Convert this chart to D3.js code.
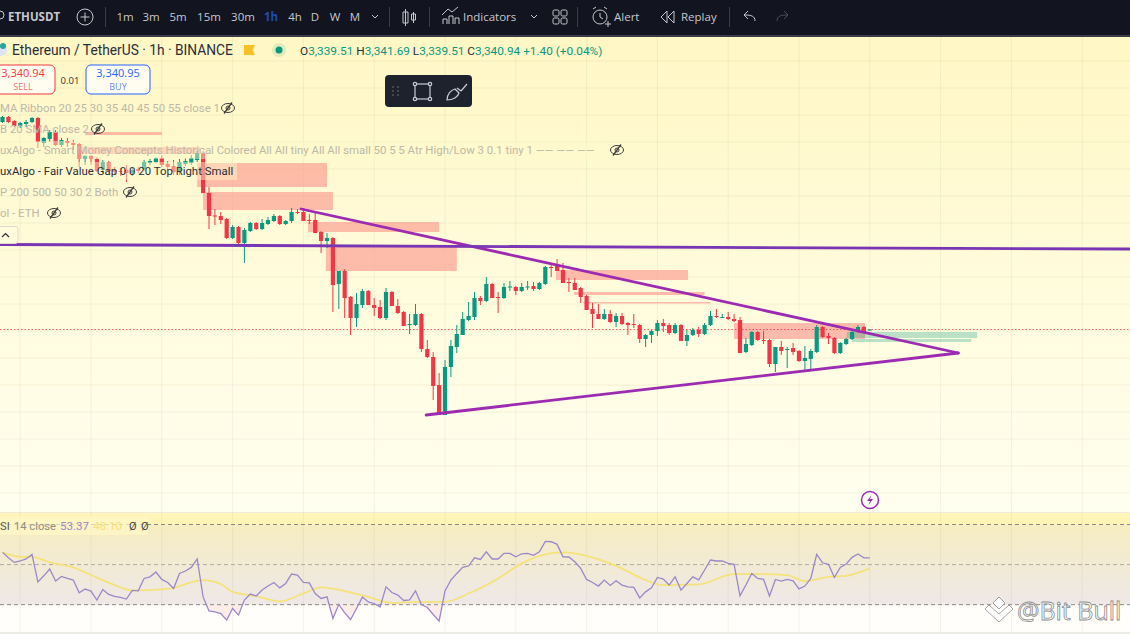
<!DOCTYPE html>
<html>
<head>
<meta charset="utf-8">
<script src="https://cdn.jsdelivr.net/npm/d3@7"></script>
<style>
  html, body { margin: 0; padding: 0; background: #fff; overflow: hidden; }
  text { font-family: "Open Sans", sans-serif; }
  text.thin { font-family: Roboto, sans-serif; }
</style>
</head>
<body>
<div id="chart"></div>
<script>
// Data
const opens = [3756,3766,3758,3748,3752,3756,3764,3714,3722,3736,3710,3718,3714,3712,3682,3688,3682,3660,3676,3660,3658,3660,3654,3662,3662,3674,3676,3684,3672,3668,3656,3672,3674,3680,3694,3614,3569,3568,3562,3524,3546,3514,3538,3554,3542,3552,3558,3568,3552,3558,3576,3576,3560,3560,3536,3518,3524,3432,3458,3406,3364,3390,3418,3390,3386,3364,3416,3388,3376,3350,3350,3372,3302,3286,3230,3170,3266,3306,3330,3360,3366,3404,3398,3432,3406,3404,3426,3426,3418,3426,3428,3422,3432,3466,3470,3460,3436,3434,3424,3408,3382,3372,3362,3372,3356,3368,3354,3352,3350,3322,3330,3338,3354,3350,3334,3350,3318,3330,3340,3332,3350,3368,3365,3366,3362,3360,3296,3310,3336,3320,3320,3272,3306,3300,3304,3298,3278,3282,3296,3346,3328,3324,3294,3312,3322,3336,3346,3339.51];
const highs = [3768,3768,3760,3756,3760,3766,3766,3726,3740,3740,3724,3724,3720,3714,3690,3690,3686,3680,3678,3666,3664,3670,3664,3666,3680,3682,3686,3690,3678,3680,3682,3684,3690,3698,3698,3626,3582,3576,3564,3550,3548,3544,3556,3556,3562,3566,3572,3570,3560,3584,3582,3584,3572,3574,3538,3534,3526,3458,3462,3408,3414,3422,3420,3404,3400,3424,3418,3402,3378,3372,3392,3374,3320,3296,3254,3280,3320,3350,3376,3396,3416,3408,3446,3434,3416,3434,3438,3428,3434,3438,3436,3436,3468,3470,3482,3474,3444,3444,3426,3410,3394,3392,3382,3380,3374,3374,3356,3372,3352,3332,3340,3360,3362,3354,3354,3352,3340,3344,3346,3354,3378,3382,3372,3376,3372,3366,3324,3338,3338,3338,3322,3306,3318,3306,3314,3300,3308,3302,3350,3348,3334,3326,3316,3324,3338,3350,3348,3341.69];
const lows = [3754,3754,3746,3744,3746,3754,3704,3706,3716,3708,3706,3706,3700,3666,3670,3670,3656,3654,3654,3650,3648,3636,3648,3654,3658,3670,3674,3666,3660,3650,3650,3668,3670,3676,3614,3542,3550,3552,3522,3522,3510,3474,3536,3540,3540,3550,3556,3550,3550,3554,3572,3558,3552,3534,3494,3504,3376,3382,3364,3330,3346,3384,3390,3368,3362,3360,3388,3372,3348,3332,3348,3296,3284,3200,3170,3170,3246,3294,3330,3358,3360,3390,3396,3404,3374,3402,3418,3410,3416,3420,3418,3420,3430,3446,3458,3434,3416,3420,3394,3380,3344,3362,3360,3354,3346,3350,3330,3344,3314,3306,3314,3328,3336,3330,3332,3318,3308,3328,3326,3330,3348,3364,3364,3360,3356,3294,3294,3308,3318,3312,3266,3256,3290,3264,3290,3276,3258,3262,3294,3324,3312,3292,3292,3310,3320,3334,3334,3339.51];
const closes = [3766,3756,3748,3754,3756,3764,3716,3724,3736,3710,3720,3714,3710,3682,3688,3682,3658,3676,3658,3656,3656,3654,3660,3658,3676,3678,3684,3670,3666,3656,3676,3678,3684,3694,3614,3568,3567,3560,3524,3546,3514,3540,3554,3542,3554,3560,3568,3552,3558,3576,3574,3558,3558,3534,3518,3524,3430,3458,3404,3364,3392,3418,3390,3384,3364,3416,3388,3374,3348,3352,3372,3302,3286,3228,3170,3266,3308,3332,3362,3368,3404,3398,3432,3404,3404,3426,3427,3418,3426,3427,3422,3434,3466,3465,3458,3434,3434,3420,3406,3380,3372,3362,3372,3356,3368,3352,3350,3350,3322,3330,3338,3354,3348,3334,3350,3318,3330,3340,3332,3350,3368,3366,3366,3362,3358,3294,3312,3336,3320,3318,3272,3306,3298,3302,3296,3278,3284,3298,3346,3326,3324,3294,3314,3322,3336,3346,3336,3340.94];

const rsiValues = [56.1,53.4,51.1,51.8,52.8,55.1,41.4,44.4,47.8,41.8,44.1,43.1,42.3,35.9,37.8,36.8,32.3,37.6,35.1,34.1,33.6,32.8,37.1,36.9,43.1,43.9,46.3,42.6,41.1,38.1,45.6,46.8,48.6,52.8,33.9,26.9,26.4,25.6,22.3,28.1,24.8,32.3,35.3,34.3,37.3,39.3,41.1,38.4,40.6,45.3,44.8,41.1,40.9,35.6,33.1,33.9,23.1,30.1,25.9,22.6,28.1,33.8,31.4,30.6,28.9,38.9,36.1,34.8,32.1,32.4,36.9,30.1,28.6,25.1,21.8,36.8,42.3,45.6,48.6,49.3,53.4,52.6,56.4,52.8,52.8,55.6,55.6,53.9,55.4,55.6,54.6,56.4,61.6,61.4,60.1,53.9,53.8,51.4,48.1,42.6,41.1,39.3,42.3,39.6,41.9,39.8,38.9,38.6,33.4,36.4,38.4,43.6,42.8,39.8,43.9,37.3,40.6,43.9,42.4,47.3,52.3,51.8,51.8,50.6,50.1,34.4,39.8,45.6,43.1,42.6,34.3,42.6,41.8,42.6,41.9,37.9,39.3,43.1,55.1,50.9,50.1,43.6,48.6,50.3,53.6,55.3,53.4,53.37];
const rsiMaIndex = [0,3,5,8,12,15,19,22,25,29,31,34,37,39,43,47,51,54,58,62,66,70,75,79,84,88,91,95,99,104,109,112,118,124,129,133,136,140,143,147];
const rsiMaValues = [56.1,53.9,53.9,51.1,48.6,44.8,39.8,37.1,37.3,38.4,40.3,42.3,40.3,36.4,34.3,31.6,35.6,38.6,36.8,33.9,30.9,31.4,31.4,35.6,43.1,50.6,54.4,56.1,54.4,49.4,42.3,39.8,40.1,45.25,45.25,44.75,41.75,43.9,44.4,48.1];
const rsiLevels = [70, 50, 30];

// fair value gap boxes: candle index span and price span
const redGapStart = [14,12.8,33,34,51.8,54.8,93.8,96.9,98.4,124];
const redGapEnd = [27,33.5,55,56,74,77,116.2,119,120,146.2];
const redGapTop = [3736,3706,3674,3616,3556,3510,3460,3416,3396,3354];
const redGapBottom = [3730,3692,3626,3580,3536,3458,3440,3410,3393,3322];
const greenGapStart = [143.1,144];
const greenGapEnd = [165.2,164.2];
const greenGapTop = [3336,3322];
const greenGapBottom = [3324,3316];

// drawn trend lines
const apexIndex = 162, apexPrice = 3294;
const trendStartIndex = [50.6, 71.8];
const trendStartPrice = [3582, 3170];
const levelIndex = [-0.42, 191.1];
const levelPrice = [3511, 3502];
const lastPrice = 3340.94;

const timeframes = ['1m','3m','5m','15m','30m','1h','4h','D','W','M'];
const timeframeX = [125,151,178,209,243,271,295,315,335,355];

// Dimensions
const dimensions = { width: 1130, height: 634, topBar: 37, mainBottom: 512, rsiBottom: 632 };

const svg = d3.select('#chart')
  .append('svg')
  .attr('width', dimensions.width)
  .attr('height', dimensions.height)
  .style('display', 'block');

const defs = svg.append('defs');
function gradient(id, stops) {
  const g = defs.append('linearGradient').attr('id', id)
    .attr('x1', 0).attr('x2', 0).attr('y1', 0).attr('y2', 1);
  stops.forEach(s => g.append('stop').attr('offset', s[0]).attr('stop-color', s[1]));
}
gradient('mainBg', [[0, '#fff7c4'], [0.45, '#fffbd9'], [1, '#fffff0']]);
gradient('rsiTop', [[0, '#fff6bb'], [1, '#fff3b4']]);
gradient('rsiBand', [[0, '#f6edc0'], [1, '#eee8e8']]);

// Scales
const xScale = d3.scaleLinear().domain([0, 147]).range([2.5, 869.8]);
const yScale = d3.scaleLinear().domain([3924, 2976]).range([38, 512]);
const rsiScale = d3.scaleLinear().domain([30, 70]).range([604.7, 524.5]);

// Backgrounds
svg.append('rect').attr('width', 1130).attr('height', 634).attr('fill', '#fffefa');
svg.append('rect').attr('y', 37).attr('width', 1130).attr('height', 475).attr('fill', 'url(#mainBg)');
svg.append('rect').attr('y', 513).attr('width', 1130).attr('height', rsiScale(70) - 513).attr('fill', 'url(#rsiTop)');
svg.append('rect').attr('y', rsiScale(70)).attr('width', 1130).attr('height', rsiScale(30) - rsiScale(70)).attr('fill', 'url(#rsiBand)');
svg.append('line').attr('x1', 0).attr('x2', 1130).attr('y1', 512.5).attr('y2', 512.5).attr('stroke', '#efeadb');
svg.append('rect').attr('y', 632).attr('width', 1130).attr('height', 2).attr('fill', '#ecebe6');

// Grid
const gridX = d3.range(3, 190, 12);
const gridY = d3.range(3014, 3900, 54);
const grid = svg.append('g').attr('stroke', '#a89f80').attr('stroke-opacity', 0.13);
grid.selectAll('.gx').data(gridX).join('line')
  .attr('x1', d => xScale(d)).attr('x2', d => xScale(d))
  .attr('y1', 37).attr('y2', 632);
grid.selectAll('.gy').data(gridY).join('line')
  .attr('x1', 0).attr('x2', 1130)
  .attr('y1', d => yScale(d)).attr('y2', d => yScale(d));

// Gaps
const gaps = svg.append('g');
gaps.selectAll('.red').data(redGapStart).join('rect')
  .attr('x', d => xScale(d))
  .attr('width', (d, i) => xScale(redGapEnd[i]) - xScale(d))
  .attr('y', (d, i) => yScale(redGapTop[i]))
  .attr('height', (d, i) => yScale(redGapBottom[i]) - yScale(redGapTop[i]))
  .attr('fill', '#fc9d92').attr('fill-opacity', 0.68);
gaps.selectAll('.green').data(greenGapStart).join('rect')
  .attr('x', d => xScale(d))
  .attr('width', (d, i) => xScale(greenGapEnd[i]) - xScale(d))
  .attr('y', (d, i) => yScale(greenGapTop[i]))
  .attr('height', (d, i) => yScale(greenGapBottom[i]) - yScale(greenGapTop[i]))
  .attr('fill', '#089981').attr('fill-opacity', 0.28);

// Last price line
svg.append('line')
  .attr('x1', 0).attr('x2', 1130)
  .attr('y1', yScale(lastPrice)).attr('y2', yScale(lastPrice))
  .attr('stroke', '#f23645').attr('stroke-opacity', 0.8).attr('stroke-dasharray', '1.5 2');

// Candles
const upColor = '#089981', downColor = '#f23645';
const candleColor = i => closes[i] >= opens[i] ? upColor : downColor;
const candles = svg.append('g');
candles.selectAll('.wick').data(opens).join('line')
  .attr('x1', (d, i) => xScale(i)).attr('x2', (d, i) => xScale(i))
  .attr('y1', (d, i) => yScale(highs[i])).attr('y2', (d, i) => yScale(lows[i]))
  .attr('stroke', (d, i) => candleColor(i)).attr('stroke-width', 1);
candles.selectAll('.body').data(opens).join('rect')
  .attr('x', (d, i) => xScale(i) - 2.1)
  .attr('width', 4.2)
  .attr('y', (d, i) => yScale(Math.max(d, closes[i])))
  .attr('height', (d, i) => Math.max(1, Math.abs(yScale(d) - yScale(closes[i]))))
  .attr('fill', (d, i) => candleColor(i));

// Trend lines
const lines = svg.append('g').attr('fill', 'none').attr('stroke-linecap', 'round');
lines.selectAll('.trend').data(trendStartIndex).join('line')
  .attr('x1', d => xScale(d)).attr('y1', (d, i) => yScale(trendStartPrice[i]))
  .attr('x2', xScale(apexIndex)).attr('y2', yScale(apexPrice))
  .attr('stroke', '#9c2bb2').attr('stroke-width', 2.8);
lines.append('line')
  .attr('x1', xScale(levelIndex[0])).attr('y1', yScale(levelPrice[0]))
  .attr('x2', xScale(levelIndex[1])).attr('y2', yScale(levelPrice[1]))
  .attr('stroke', '#7a35b5').attr('stroke-width', 2.8);

// Lightning button
const bolt = svg.append('g').attr('transform', 'translate(870,500)');
bolt.append('circle').attr('r', 8.5).attr('fill', '#fffef0').attr('stroke', '#9c2bb2').attr('stroke-width', 1.5);
bolt.append('path').attr('d', 'M1.5,-5 L-3,1 L0,1 L-1.5,5 L3,-1 L0,-1 Z').attr('fill', '#9c2bb2');

// RSI pane
const rsiLine = d3.line().x((d, i) => xScale(i)).y(d => rsiScale(d));
defs.append('clipPath').attr('id', 'below30').append('rect')
  .attr('x', 0).attr('y', rsiScale(30)).attr('width', 1130).attr('height', 40);
svg.append('path').datum(rsiValues)
  .attr('clip-path', 'url(#below30)')
  .attr('d', d3.area().x((d, i) => xScale(i)).y0(rsiScale(30)).y1(d => rsiScale(d)))
  .attr('fill', '#f7a8a0').attr('fill-opacity', 0.2);
svg.selectAll('.level').data(rsiLevels).join('line')
  .attr('x1', 0).attr('x2', 1130)
  .attr('y1', d => rsiScale(d)).attr('y2', d => rsiScale(d))
  .attr('stroke', d => d === 50 ? '#b3aba0' : '#8c887e')
  .attr('stroke-dasharray', '4 3');
svg.append('path').datum(rsiMaIndex)
  .attr('d', d3.line().curve(d3.curveMonotoneX)
    .x(d => xScale(d)).y((d, i) => rsiScale(rsiMaValues[i])))
  .attr('fill', 'none').attr('stroke', '#f5e27a').attr('stroke-width', 1.8);
svg.append('path').datum(rsiValues)
  .attr('d', rsiLine)
  .attr('fill', 'none').attr('stroke', '#9b88c8').attr('stroke-width', 1.3);

// RSI legend
svg.append('rect').attr('x', 0).attr('y', 517).attr('width', 148).attr('height', 18)
  .attr('fill', '#fff8c8').attr('fill-opacity', 0.7);
function label(x, y, text, size, color, extra) {
  const t = svg.append('text').attr('x', x).attr('y', y).text(text)
    .attr('font-size', size).attr('fill', color);
  if (extra) Object.keys(extra).forEach(k => t.attr(k, extra[k]));
  return t;
}
const thin = { class: 'thin' };
label(0, 530, 'SI', 11.2, '#555555', thin);
label(14, 530, '14 close', 11.2, '#8f8d86', thin);
label(60, 530, '53.37', 11.6, '#9b88c8', thin);
label(93, 530, '48.10', 11.6, '#f6df7e', thin);
label(129, 530, 'Ø', 11, '#444444', thin);
label(141, 530, 'Ø', 11, '#444444', thin);

// Legend rows
function eye(cx, cy) {
  const g = svg.append('g').attr('transform', `translate(${cx},${cy})`)
    .attr('fill', 'none').attr('stroke', '#3d3d3d').attr('stroke-width', 1);
  g.append('ellipse').attr('rx', 6.5).attr('ry', 4.5);
  g.append('circle').attr('r', 2);
  g.append('line').attr('x1', -4).attr('y1', 5.5).attr('x2', 4).attr('y2', -5.5).attr('stroke-width', 1.3);
}
const legendGray = '#bdb8a8';
const legendSize = 11.4;
svg.append('rect').attr('x', 0).attr('y', 141).attr('width', 605).attr('height', 18).attr('fill', '#fff8cc').attr('fill-opacity', 0.45);
svg.append('rect').attr('x', 0).attr('y', 162).attr('width', 237).attr('height', 18).attr('fill', '#fff8cc').attr('fill-opacity', 0.45);
label(0, 112, 'MA Ribbon 20 25 30 35 40 45 50 55 close 1', legendSize, legendGray, thin);
eye(228, 108);
label(0, 133, 'B 20 SMA close 2', legendSize, legendGray, thin);
eye(98, 129);
label(0, 154, 'uxAlgo - Smart Money Concepts Historical Colored All All tiny All All small 50 5 5 Atr High/Low 3 0.1 tiny 1 —— —— ——', legendSize, legendGray, thin);
eye(617, 150);
label(0, 175, 'uxAlgo - Fair Value Gap 0 0 20 Top Right Small', legendSize, '#2a2e39', thin);
label(0, 196, 'P 200 500 50 30 2 Both', legendSize, legendGray, thin);
eye(130, 192);
label(0, 217, 'ol - ETH', legendSize, legendGray, thin);
eye(54, 213);
svg.append('rect').attr('x', -4).attr('y', 226.5).attr('width', 22).attr('height', 17).attr('rx', 3)
  .attr('fill', '#fffbdc').attr('stroke', '#dedbc8');
svg.append('path').attr('d', 'M2,237 L5.5,233.5 L9,237').attr('fill', 'none').attr('stroke', '#2a2e39').attr('stroke-width', 1.2);

// Header row
svg.append('circle').attr('cx', 1).attr('cy', 50).attr('r', 6).attr('fill', '#dfe3f4');
svg.append('circle').attr('cx', 3).attr('cy', 46).attr('r', 3).attr('fill', '#26a69a');
label(12, 55, 'Ethereum / TetherUS · 1h · BINANCE', 13.75, '#2a2e39', thin);
svg.append('path').attr('d', 'M244,45 H255 L252.5,50 L255,55 H244 Z').attr('fill', '#f7c025');
svg.append('circle').attr('cx', 279).attr('cy', 50).attr('r', 7).attr('fill', '#089981').attr('fill-opacity', 0.13);
svg.append('circle').attr('cx', 279).attr('cy', 50).attr('r', 3.5).attr('fill', '#089981');
const ohlc = svg.append('text').attr('class', 'thin').attr('x', 300).attr('y', 55).attr('font-size', 11.8).attr('fill', '#089981');
ohlc.append('tspan').attr('fill', '#2a2e39').text('O');
ohlc.append('tspan').text('3,339.51 ');
ohlc.append('tspan').attr('fill', '#2a2e39').text('H');
ohlc.append('tspan').text('3,341.69 ');
ohlc.append('tspan').attr('fill', '#2a2e39').text('L');
ohlc.append('tspan').text('3,339.51 ');
ohlc.append('tspan').attr('fill', '#2a2e39').text('C');
ohlc.append('tspan').text('3,340.94 +1.40 (+0.04%)');

// Sell / buy buttons
function tradeButton(x, w, color, price, side) {
  svg.append('rect').attr('x', x).attr('y', 65).attr('width', w).attr('height', 29).attr('rx', 5)
    .attr('fill', '#fffdf0').attr('stroke', color);
  label(x + w / 2, 77, price, 11, color, { 'text-anchor': 'middle' });
  label(x + w / 2, 90, side, 9, color, { 'text-anchor': 'middle', 'fill-opacity': 0.75 });
}
tradeButton(-9, 64, '#f23645', '3,340.94', 'SELL');
tradeButton(86, 64, '#2962ff', '3,340.95', 'BUY');
label(70, 84, '0.01', 9.5, '#333333', { 'text-anchor': 'middle' });

// Floating drawing toolbar
svg.append('rect').attr('x', 385).attr('y', 75).attr('width', 87).attr('height', 32).attr('rx', 4).attr('fill', '#1e222d');
const floatTool = svg.append('g').attr('fill', 'none').attr('stroke', '#c9ccd4').attr('stroke-width', 1.2);
floatTool.append('rect').attr('x', 415).attr('y', 84).attr('width', 15).attr('height', 15);
[[415,84],[430,84],[415,99],[430,99]].forEach(p =>
  floatTool.append('circle').attr('cx', p[0]).attr('cy', p[1]).attr('r', 1.7).attr('fill', '#1e222d'));
floatTool.append('path').attr('d', 'M447,100 C447,94 451,90 455,89 L459,93 C458,97 453,100 447,100 Z M457,88 L461,91 M461,91 L467,84');
svg.append('g').attr('fill', '#555a66').selectAll('circle').data(d3.range(6)).join('circle')
  .attr('cx', d => 393 + (d % 2) * 5).attr('cy', d => 87 + Math.floor(d / 2) * 4).attr('r', 0.9);

// Top toolbar
svg.append('rect').attr('width', 1130).attr('height', 35).attr('fill', '#12141f');
svg.append('rect').attr('y', 35).attr('width', 1130).attr('height', 2).attr('fill', '#3a3d47');
const barText = '#c6c8d0';
label(8, 21, 'ETHUSDT', 11.5, barText, { 'font-weight': 700 });
const bar = svg.append('g').attr('fill', 'none').attr('stroke', barText).attr('stroke-width', 1);
bar.append('circle').attr('cx', 0).attr('cy', 15).attr('r', 4);
bar.append('circle').attr('cx', 85).attr('cy', 17).attr('r', 8);
bar.append('path').attr('d', 'M85,12.5 V21.5 M80.5,17 H89.5');
[105, 389, 429, 577, 729].forEach(x =>
  bar.append('line').attr('x1', x + 0.5).attr('x2', x + 0.5).attr('y1', 7).attr('y2', 27).attr('stroke', '#3a3d47'));
timeframes.forEach((d, i) => {
  label(timeframeX[i], 21, d, 11.5, d === '1h' ? '#1f4bb8' : barText,
    { 'text-anchor': 'middle', 'font-weight': d === '1h' ? 700 : 400 });
});
bar.append('path').attr('d', 'M372,15 L375,18 L378,15');
bar.append('path').attr('d', 'M405.5,9 V26 M403,12 H408 V23 H403 Z M413.5,12 V23 M411.5,14 H415.5 V20 H411.5 Z');
bar.append('path').attr('d', 'M443,24 V19 H447 V24 M449,24 V16 H453 V24 M455,24 V18 H459 V24 M442,15 L448,9 L452,12 L458,7');
label(463, 21, 'Indicators', 11.5, barText);
bar.append('path').attr('d', 'M531,15 L534,18 L537,15');
[[553,10],[561,10],[553,18],[561,18]].forEach(p =>
  bar.append('rect').attr('x', p[0]).attr('y', p[1]).attr('width', 6).attr('height', 6).attr('rx', 1.5));
bar.append('circle').attr('cx', 600).attr('cy', 17).attr('r', 7);
bar.append('path').attr('d', 'M600,13 V17 L603,19 M593,9 L596,7 M607,9 L604,7 M605,24 H611 M608,21 V27');
label(614, 21, 'Alert', 11.5, barText);
bar.append('path').attr('d', 'M667,11 L661,17 L667,23 Z M674,11 L668,17 L674,23 Z');
label(681, 21, 'Replay', 11.5, barText);
bar.append('path').attr('d', 'M755,21 C755,16 751,15 745,15 M748,11 L744,15 L748,19');
bar.append('path').attr('d', 'M777,21 C777,16 781,15 787,15 M784,11 L788,15 L784,19').attr('stroke', '#4c4f5a');

// Watermark
const mark = svg.append('g').attr('fill', '#ffffff').attr('stroke', '#8d8d8d').attr('stroke-width', 0.8);
mark.append('path').attr('d', 'M999,597 L1005,603 L999,609 L993,603 Z');
mark.append('path').attr('d', 'M989,605 L999,614 L1009,605 L1013,609 L999,622 L985,609 Z');
label(1017, 620, '@Bit Bull', 25, '#ffffff', { stroke: '#8d8d8d', 'stroke-width': 0.8 });
</script>
</body>
</html>
